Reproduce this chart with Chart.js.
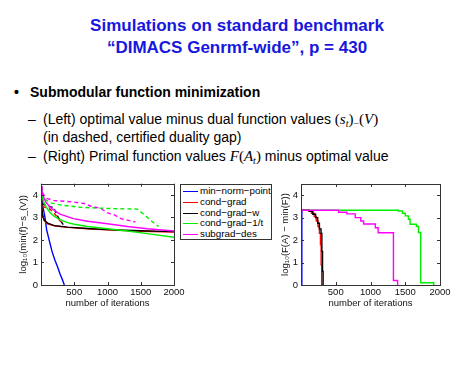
<!DOCTYPE html>
<html>
<head>
<meta charset="utf-8">
<script src="https://cdn.jsdelivr.net/npm/chart.js@4.4.1/dist/chart.umd.min.js"></script>
<style>
  body { margin: 0; width: 474px; height: 366px; background: #fff; position: relative; overflow: hidden;
         font-family: "Liberation Sans", Arial, sans-serif; }
  .t { position: absolute; white-space: nowrap; }
  .title { left: 0; width: 474px; text-align: center; color: #1717dd; font-weight: bold; font-size: 17px; line-height: 20px; }
  .txt { font-size: 14px; line-height: 18px; color: #000; }
  .m { font-family: "Liberation Serif", serif; font-size: 15px; }
  .m i { font-style: italic; }
  sub { font-size: 10px; vertical-align: -3px; line-height: 0; }
  canvas { position: absolute; }
  #legend { position: absolute; left: 180px; top: 184px; width: 92px; height: 56px; border: 1px solid #333;
            background: #fff; font-size: 9.8px; color: #000; padding-top: 1px; box-sizing: border-box; }
  #legend div { height: 10.8px; line-height: 10.8px; position: relative; padding-left: 19px; white-space: nowrap; }
  #legend span { position: absolute; left: 2px; top: 5px; width: 15px; height: 0; border-top: 1.5px solid; }
</style>
</head>
<body>
<div class="t title" style="top:16px">Simulations on standard benchmark</div>
<div class="t title" style="top:38px">“DIMACS Genrmf-wide”, p = 430</div>

<div class="t txt" style="left:14px;top:83px;font-weight:bold">•</div>
<div class="t txt" style="left:30px;top:83px;font-weight:bold">Submodular function minimization</div>
<div class="t txt" style="left:28px;top:110px">–</div>
<div class="t txt" style="left:43px;top:110px">(Left) optimal value minus dual function values <span class="m">(<i>s</i><sub><i>t</i></sub>)<sub>−</sub>(<i>V</i>)</span></div>
<div class="t txt" style="left:43px;top:128px">(in dashed, certified duality gap)</div>
<div class="t txt" style="left:28px;top:147px">–</div>
<div class="t txt" style="left:43px;top:147px">(Right) Primal function values <span class="m"><i>F</i>(<i>A</i><sub><i>t</i></sub>)</span> minus optimal value</div>

<canvas id="left" width="192" height="135" style="left:0;top:175px"></canvas>
<canvas id="right" width="192" height="135" style="left:262px;top:175px"></canvas>
<div id="legend"></div>

<script>
// series names, as in the legend
const seriesNames = ["min−norm−point", "cond−grad", "cond−grad−w", "cond−grad−1/t", "subgrad−des"];
const xTicks = [0, 500, 1000, 1500, 2000];
const yTicks = [0, 1, 2, 3, 4];

// left plot: log10(min(f) - s_(V)), solid = dual value, dashed = duality gap
const leftMinNorm = [[0, 4.35], [10, 3.9], [20, 3.6], [40, 3.3], [60, 3.0], [85, 2.45], [110, 2.15], [135, 1.85],
  [170, 1.45], [210, 1.1], [250, 0.8], [285, 0.5], [320, 0.25], [350, 0], [360, -0.2]];
const leftCondGrad = [[0, 3.8], [10, 3.4], [25, 3.05], [50, 2.85], [100, 2.72], [200, 2.63], [400, 2.56],
  [700, 2.5], [1000, 2.45], [1500, 2.39], [2000, 2.35]];
const leftCondGradGap = [[20, 3.5], [60, 3.45], [120, 3.4], [180, 3.25], [250, 3.0], [320, 2.7]];
const leftCondGradW = [[0, 3.9], [10, 3.5], [25, 3.1], [50, 2.88], [100, 2.75], [200, 2.64], [400, 2.57],
  [700, 2.51], [1000, 2.46], [1500, 2.41], [2000, 2.37]];
const leftCondGradWGap = [[20, 3.62], [60, 3.55], [120, 3.48], [185, 3.45], [220, 3.25], [260, 3.0], [335, 2.68]];
const leftCondGrad1t = [[0, 4.4], [15, 4.0], [40, 3.7], [80, 3.45], [135, 3.22], [200, 3.05], [285, 2.9],
  [400, 2.77], [500, 2.7], [700, 2.6], [1000, 2.5], [1300, 2.4], [1600, 2.28], [2000, 2.12]];
const leftCondGrad1tGap = [[0, 4.4], [20, 4.0], [60, 3.8], [150, 3.65], [300, 3.55], [600, 3.45], [1000, 3.4],
  [1450, 3.37], [1520, 3.2], [1600, 3.0], [1680, 2.8], [1770, 2.6]];
const leftSubgrad = [[0, 4.4], [15, 4.15], [40, 3.9], [80, 3.65], [150, 3.42], [285, 3.15], [486, 2.95],
  [700, 2.83], [1000, 2.72], [1300, 2.6], [1600, 2.5], [2000, 2.4]];
const leftSubgradGap = [[0, 4.4], [30, 4.05], [80, 3.85], [200, 3.75], [450, 3.7], [650, 3.62], [750, 3.5],
  [900, 3.4], [1000, 3.2], [1100, 3.12], [1200, 2.95], [1300, 2.88], [1420, 2.8]];

// right plot: log10(F(A_t) - min(F)), values change at these iterations
const rightMinNorm = [[0, 3.33], [12, -0.5]];
const rightCondGrad = [[0, 3.33], [110, 3.3], [150, 3.2], [190, 3.05], [220, 2.85], [245, 2.6], [265, 2.3],
  [280, 1.8], [290, 0.9], [298, -0.5]];
const rightCondGradW = [[0, 3.33], [120, 3.28], [170, 3.15], [210, 3.0], [240, 2.75], [265, 2.5], [288, 2.3],
  [300, 1.5], [310, 0.6], [318, -0.5]];
const rightCondGrad1t = [[0, 3.33], [1400, 3.3], [1460, 3.2], [1500, 3.08], [1545, 2.93], [1570, 2.71],
  [1660, 2.62], [1690, 2.34], [1722, 0.1], [1910, -0.5]];
const rightSubgrad = [[0, 3.33], [540, 3.24], [660, 3.17], [780, 3.0], [860, 2.85], [900, 2.72], [1070, 2.55],
  [1110, 2.33], [1330, 0.2], [1390, -0.5]];

const colors = ["#0000ff", "#ff0000", "#000000", "#00ee00", "#ff00ff"];

Chart.defaults.font.family = '"Liberation Sans", Arial, sans-serif';
Chart.defaults.font.size = 9.5;
Chart.defaults.font.lineHeight = 1.2;
Chart.defaults.color = "#111";

function line(points, color, dashed, stepped) {
  return {
    data: points.map(p => ({ x: p[0], y: p[1] })),
    borderColor: color,
    borderWidth: 1.4,
    borderDash: dashed ? [4, 3] : [],
    pointRadius: 0,
    showLine: true,
    fill: false,
    stepped: !!stepped,
    tension: 0
  };
}

// matlab-like box with inward ticks
const frame = {
  id: "frame",
  afterDraw(chart) {
    const { ctx, chartArea: a, scales: { x, y } } = chart;
    ctx.save();
    ctx.strokeStyle = "#333";
    ctx.lineWidth = 1;
    ctx.strokeRect(Math.round(a.left) + 0.5, Math.round(a.top) + 0.5, Math.round(a.right - a.left), Math.round(a.bottom - a.top));
    ctx.beginPath();
    xTicks.forEach(v => {
      const px = Math.round(x.getPixelForValue(v)) + 0.5;
      ctx.moveTo(px, a.bottom); ctx.lineTo(px, a.bottom - 3);
      ctx.moveTo(px, a.top); ctx.lineTo(px, a.top + 3);
    });
    yTicks.forEach(v => {
      const py = Math.round(y.getPixelForValue(v)) + 0.5;
      ctx.moveTo(a.left, py); ctx.lineTo(a.left + 3, py);
      ctx.moveTo(a.right, py); ctx.lineTo(a.right - 3, py);
    });
    ctx.stroke();
    ctx.restore();
  }
};

function makeChart(id, datasets, yTitle, yWidth, pad) {
  // later series are drawn on top, as in the original
  datasets.forEach((d, i) => { d.order = datasets.length - i; });
  return new Chart(document.getElementById(id), {
    type: "scatter",
    data: { datasets },
    options: {
      responsive: false,
      animation: false,
      devicePixelRatio: 1,
      layout: { padding: pad },
      plugins: { legend: { display: false }, tooltip: { enabled: false } },
      scales: {
        x: {
          type: "linear", min: 0, max: 2000,
          grid: { display: false, drawTicks: false }, border: { display: false },
          ticks: { stepSize: 500, padding: 2, maxRotation: 0, autoSkip: false,
                   callback: v => (v === 0 ? "" : v) },
          title: { display: true, text: "number of iterations", padding: { top: 0, bottom: 1 } },
          afterFit: s => { s.height = 25; s.paddingLeft = 0; s.paddingRight = 0; }
        },
        y: {
          type: "linear", min: 0, max: 4.5,
          grid: { display: false, drawTicks: false }, border: { display: false },
          ticks: { stepSize: 1, includeBounds: false, padding: 3 },
          title: { display: true, text: yTitle, padding: { top: 18, bottom: 0 } },
          afterFit: s => { s.width = yWidth; }
        }
      }
    },
    plugins: [frame]
  });
}

makeChart("left", [
  line(leftMinNorm, colors[0]),
  line(leftCondGrad, colors[1]),
  line(leftCondGradGap, colors[1], true),
  line(leftCondGradW, colors[2]),
  line(leftCondGradWGap, colors[2], true),
  line(leftCondGrad1t, colors[3]),
  line(leftCondGrad1tGap, colors[3], true),
  line(leftSubgrad, colors[4]),
  line(leftSubgradGap, colors[4], true)
], "log₁₀(min(f)−s_(V))", 41, { top: 7, right: 18, bottom: 0, left: 0 });

makeChart("right", [
  line(rightMinNorm, colors[0], false, true),
  line(rightCondGrad, colors[1], false, true),
  line(rightCondGradW, colors[2], false, true),
  line(rightCondGrad1t, colors[3], false, true),
  line(rightSubgrad, colors[4], false, true)
], "log₁₀(F(A) − min(F))", 39, { top: 9, right: 14, bottom: 0, left: 0 });

// legend box between the two plots
const legend = document.getElementById("legend");
seriesNames.forEach((name, i) => {
  const row = document.createElement("div");
  row.innerHTML = '<span style="border-color:' + colors[i] + '"></span>' + name;
  legend.appendChild(row);
});
</script>
</body>
</html>
